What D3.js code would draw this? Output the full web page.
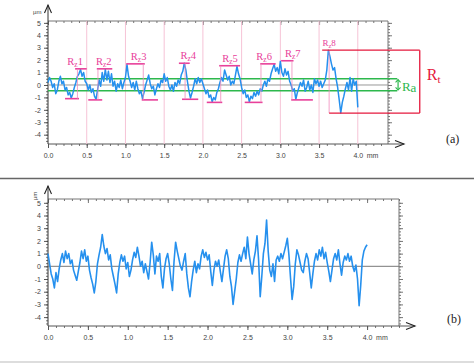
<!DOCTYPE html>
<html><head><meta charset="utf-8">
<script src="https://cdn.jsdelivr.net/npm/d3@7"></script>
<style>body{margin:0;background:#fff}svg{display:block}</style>
</head><body><svg id="c" width="474" height="363"></svg>
<script>
// ---------- data ----------
const step = 0.02; // mm between profile samples
const profileA = [
 0.2,0.6,0.3,-0.2,0.1,-0.7,-0.4,0.3,0.7,0.1,
 0.3,-0.4,-0.2,-0.8,-0.6,-1.05,-0.7,-0.2,0.2,0.7,
 0.9,1.25,0.7,1.0,0.3,0.1,-0.4,0.0,-0.6,-0.3,
 -0.9,-1.15,-0.4,0.4,-0.1,1.0,0.3,1.25,0.4,1.1,
 0.2,0.9,-0.1,0.3,-0.5,0.1,-0.2,0.4,-0.3,0.2,
 0.6,1.65,0.7,0.3,-0.2,0.2,-0.4,0.3,-0.3,-0.7,
 -0.5,-1.1,-0.6,0.0,0.4,0.8,0.1,-0.3,-0.1,-0.8,
 -0.3,0.1,-0.2,0.4,0.2,0.9,0.3,0.6,-0.1,-0.4,
 0.0,-0.5,0.2,-0.1,0.4,0.1,0.8,1.1,1.75,1.2,
 0.3,-0.5,-1.05,-0.6,-0.1,0.5,0.1,0.6,0.2,0.5,
 0.1,-0.3,-0.7,-0.4,-1.0,-0.8,-1.35,-1.0,-1.2,-0.6,
 -0.3,0.2,0.6,0.3,1.2,0.8,0.4,0.7,0.0,0.3,
 0.1,0.8,1.5,0.9,0.5,-0.2,-0.7,-0.4,-1.0,-0.8,
 -1.35,-0.9,-1.1,-0.6,-0.9,-0.5,-0.8,-0.3,-0.5,0.0,
 0.3,-0.1,0.5,0.3,0.9,1.3,1.65,1.1,1.4,0.9,
 1.9,1.0,0.7,1.3,0.8,1.1,0.3,0.0,-0.5,-0.3,
 -1.15,-0.6,-0.2,0.2,-0.1,0.4,-0.5,-0.2,0.3,-0.4,
 0.0,-0.6,0.5,0.1,0.4,-0.1,0.3,-0.2,0.1,0.4,
 1.2,2.8,2.3,1.7,1.2,1.4,0.5,-0.2,-1.2,-2.25,
 -1.4,-0.9,-0.3,0.2,-0.4,0.6,-0.5,0.5,0.0,0.3,
 -1.8
];
const profileB = [
 1.0,0.2,-0.6,-1.0,-1.7,-0.5,-1.2,-0.2,0.5,1.0,
 0.3,1.2,0.6,1.0,0.2,0.5,-0.3,-0.7,-1.1,-0.4,
 0.3,1.2,0.6,1.3,0.4,0.8,-0.3,-0.9,-1.4,-2.1,
 -1.2,0.2,0.9,1.5,2.5,1.6,1.0,1.4,0.5,0.9,
 -0.2,-0.8,-1.4,-2.1,-0.6,0.3,0.9,0.4,0.8,-0.2,
 0.3,-0.8,-0.3,0.5,1.1,0.7,1.5,0.8,0.0,0.4,
 -0.5,0.2,-0.4,-1.0,0.3,1.9,0.9,-0.6,0.8,0.4,
 1.0,-0.8,-1.7,-0.2,0.6,1.0,0.2,-1.0,-1.9,0.4,
 1.9,1.2,0.6,0.0,-0.3,0.4,1.0,-0.6,-1.7,-2.4,
 -1.2,-0.3,0.4,-0.5,0.2,-0.2,0.8,1.3,0.7,1.1,
 0.5,0.9,-0.4,-1.5,-0.3,0.4,0.0,0.5,-0.4,-1.2,
 -0.2,0.8,1.3,0.6,-0.8,-1.6,-3.0,-2.0,-1.0,0.3,
 0.9,0.4,1.0,1.5,0.6,2.3,1.0,0.2,-0.6,0.5,
 1.2,2.4,0.5,-2.4,-0.8,1.0,1.8,3.65,1.2,-0.3,
 -0.8,0.2,-1.2,0.5,0.8,0.4,1.0,0.6,1.1,1.6,
 2.2,0.9,-0.9,-2.6,-1.6,0.2,1.3,0.9,0.3,-0.3,
 -0.5,0.4,1.0,0.6,-0.5,-1.7,-0.6,0.4,1.0,0.5,
 1.3,0.8,1.5,0.6,1.1,0.3,-0.4,-1.2,-0.3,0.6,
 1.0,0.5,1.3,0.2,-0.7,0.3,0.8,0.5,1.0,0.4,
 0.8,0.0,-0.4,0.1,-1.0,-3.1,-1.5,0.5,1.2,1.5,
 1.7
];
const xMajorTicks = [0.0,0.5,1.0,1.5,2.0,2.5,3.0,3.5,4.0];
const yMajorTicks = [-4,-3,-2,-1,0,1,2,3,4,5];
const divisions = [0.5,1.0,1.5,2.0,2.5,3.0,3.5,4.0];
const rzNames = ["1","2","3","4","5","6","7","8"];
const rzPeak = [1.3,1.3,1.7,1.75,1.55,1.7,1.95,2.8];
const rzValley = [-1.1,-1.2,-1.2,-1.15,-1.4,-1.4,-1.2,-2.26];
const rzPeakFrom = [0.35,0.63,1.01,1.69,2.21,2.74,3.01,null];
const rzPeakTo = [0.50,0.83,1.25,1.83,2.48,2.94,3.17,null];
const rzValleyFrom = [0.22,0.52,1.21,1.73,2.05,2.54,3.14,null];
const rzValleyTo = [0.40,0.70,1.42,1.94,2.25,2.77,3.42,null];
const rzLink = [0.38,0.645,1.23,1.77,2.23,2.75,3.15,3.63];
const rzLabelX = [0.35,0.72,1.17,1.81,2.35,2.79,3.16,3.63];
const raLevels = [0.5,-0.47];
const rtLevels = [2.8,-2.26];

// ---------- drawing ----------
const svg = d3.select("#c");
const tickFont = "'Liberation Sans', Arial, sans-serif";
const serif = "'Liberation Serif', 'Times New Roman', serif";
const blue = "#2590ee", green = "#2db84d", red = "#e5183c", pink = "#e8409a";

svg.append("rect").attr("width",474).attr("height",363).attr("fill","#fff");
svg.append("line").attr("x1",0).attr("x2",474).attr("y1",178.5).attr("y2",178.5).attr("stroke","#666").attr("stroke-width",1.5);
svg.append("line").attr("x1",0).attr("x2",474).attr("y1",362).attr("y2",362).attr("stroke","#bbb").attr("stroke-width",1);

function panel(opt){
  const x = d3.scaleLinear().domain(opt.xd).range(opt.xr);
  const y = d3.scaleLinear().domain(opt.yd).range(opt.yr);
  const g = svg.append("g");
  const [L,R] = opt.xr, [B,T] = opt.yr;
  const xMinor = d3.range(0, opt.xd[1]+1e-9, 0.1).map(v=>+v.toFixed(2));
  const yMinor = d3.range(-4.5, 5.01, 0.25);
  const styleAxis = sel => { sel.select(".domain").remove(); sel.selectAll("line").attr("stroke","#777"); };
  g.append("g").attr("transform",`translate(${L},0)`).call(d3.axisLeft(y).tickValues(yMinor).tickSize(2).tickFormat("")).call(styleAxis);
  g.append("g").attr("transform",`translate(${R},0)`).call(d3.axisRight(y).tickValues(yMinor).tickSize(2).tickFormat("")).call(styleAxis);
  g.append("g").attr("transform",`translate(0,${B})`).call(d3.axisBottom(x).tickValues(xMinor).tickSize(2).tickFormat("")).call(styleAxis);
  g.append("g").attr("transform",`translate(0,${T})`).call(d3.axisBottom(x).tickValues(xMinor).tickSize(2).tickFormat("")).call(styleAxis);
  const yl = g.append("g").attr("transform",`translate(${L},0)`).call(d3.axisLeft(y).tickValues(yMajorTicks).tickSize(4).tickPadding(3).tickFormat(d=>String(d)));
  yl.select(".domain").remove(); yl.selectAll("line").attr("stroke","#555");
  yl.selectAll("text").attr("font-family",tickFont).attr("font-size",7).attr("fill","#444");
  const xl = g.append("g").attr("transform",`translate(0,${B})`).call(d3.axisBottom(x).tickValues(xMajorTicks).tickSize(4).tickPadding(5).tickFormat(d3.format(".1f")));
  xl.select(".domain").remove(); xl.selectAll("line").attr("stroke","#555");
  xl.selectAll("text").attr("font-family",tickFont).attr("font-size",7).attr("fill","#444");
  g.append("g").attr("transform",`translate(${R},0)`).call(d3.axisRight(y).tickValues(yMajorTicks).tickSize(4).tickFormat("")).call(styleAxis);
  g.append("g").attr("transform",`translate(0,${T})`).call(d3.axisBottom(x).tickValues(xMajorTicks).tickSize(4).tickFormat("")).call(styleAxis);
  g.append("text").attr("x",x(4.0)+9).attr("y",B+13.5).attr("font-family",tickFont).attr("font-size",7).attr("fill","#444").text("mm");
  g.append("line").attr("x1",L).attr("x2",R).attr("y1",T).attr("y2",T).attr("stroke","#777");
  g.append("line").attr("x1",R).attr("x2",R).attr("y1",T).attr("y2",B).attr("stroke","#777");
  g.append("line").attr("x1",L).attr("x2",opt.arrowX).attr("y1",B).attr("y2",B).attr("stroke","#555");
  g.append("line").attr("x1",L).attr("x2",L).attr("y1",B).attr("y2",opt.arrowY).attr("stroke","#333");
  g.append("path").attr("d",`M${L-3.5},${opt.arrowY+8}L${L},${opt.arrowY}L${L+3.5},${opt.arrowY+8}`).attr("fill","none").attr("stroke","#222").attr("stroke-width",1.1);
  g.append("path").attr("d",`M${opt.arrowX-9},${B-3.5}L${opt.arrowX},${B}L${opt.arrowX-9},${B+3.5}`).attr("fill","none").attr("stroke","#222").attr("stroke-width",1.1);
  const um = g.append("text").attr("font-family",tickFont).attr("font-size",6).attr("fill","#444").text("µm");
  if(opt.rotUnit) um.attr("transform",`translate(${L-11},${opt.arrowY+10}) rotate(-90)`).attr("text-anchor","middle");
  else um.attr("x",L-15).attr("y",opt.arrowY+9);
  return {x,y,g,L,R,T,B};
}

// ----- panel (a)
const A = panel({xd:[0,4.39], xr:[48,388], yd:[-4.75,5.15], yr:[144,21], arrowX:404, arrowY:5, rotUnit:false});
A.g.append("g").selectAll("line").data(divisions).join("line")
  .attr("x1",d=>A.x(d)).attr("x2",d=>A.x(d)).attr("y1",A.T).attr("y2",A.B)
  .attr("stroke","#f6c3d6").attr("stroke-width",1);
A.g.append("line").attr("x1",A.L).attr("x2",A.R).attr("y1",A.y(0)).attr("y2",A.y(0)).attr("stroke","#999").attr("stroke-width",1);
A.g.append("g").selectAll("line").data(raLevels).join("line")
  .attr("x1",A.L).attr("x2",A.x(4.51)).attr("y1",d=>A.y(d)).attr("y2",d=>A.y(d))
  .attr("stroke",green).attr("stroke-width",1.6);
A.g.append("path").datum(profileA)
  .attr("d",d3.line().x((d,i)=>A.x(i*step)).y(d=>A.y(d)))
  .attr("fill","none").attr("stroke",blue).attr("stroke-width",1.5).attr("stroke-linejoin","round");
const rzG = A.g.append("g");
rzNames.forEach((n,i)=>{
  if(rzPeakFrom[i]!==null){
    rzG.append("line").attr("x1",A.x(rzPeakFrom[i])).attr("x2",A.x(rzPeakTo[i])).attr("y1",A.y(rzPeak[i])).attr("y2",A.y(rzPeak[i])).attr("stroke",pink).attr("stroke-width",1.6);
    rzG.append("line").attr("x1",A.x(rzValleyFrom[i])).attr("x2",A.x(rzValleyTo[i])).attr("y1",A.y(rzValley[i])).attr("y2",A.y(rzValley[i])).attr("stroke",pink).attr("stroke-width",1.6);
  }
  rzG.append("line").attr("x1",A.x(rzLink[i])).attr("x2",A.x(rzLink[i])).attr("y1",A.y(rzPeak[i])).attr("y2",A.y(rzValley[i])).attr("stroke","#f08cbc").attr("stroke-width",0.8);
  const t = rzG.append("text").attr("x",A.x(rzLabelX[i])).attr("y",A.y(rzPeak[i])-4).attr("text-anchor","middle")
    .attr("font-family",serif).attr("fill",pink).attr("font-size",i===7?9:10.5);
  t.append("tspan").text("R");
  t.append("tspan").attr("font-size",i===7?6.5:7.5).attr("dy",2).text("z");
  t.append("tspan").attr("dy",-2).text(n);
});
A.g.append("line").attr("x1",A.x(3.54)).attr("x2",A.x(4.80)).attr("y1",A.y(rtLevels[0])).attr("y2",A.y(rtLevels[0])).attr("stroke",red).attr("stroke-width",1.3);
A.g.append("line").attr("x1",A.x(3.63)).attr("x2",A.x(4.80)).attr("y1",A.y(rtLevels[1])).attr("y2",A.y(rtLevels[1])).attr("stroke",red).attr("stroke-width",1.3);
A.g.append("line").attr("x1",A.x(4.80)).attr("x2",A.x(4.80)).attr("y1",A.y(rtLevels[0])).attr("y2",A.y(rtLevels[1])).attr("stroke",red).attr("stroke-width",1.3);
const rt = A.g.append("text").attr("x",A.x(4.89)).attr("y",A.y(0.4)).attr("font-family",serif).attr("fill",red).attr("font-size",16);
rt.append("tspan").text("R"); rt.append("tspan").attr("font-size",11).attr("dy",3).text("t");
const bx = A.x(4.52), y1 = A.y(raLevels[0]), y2 = A.y(raLevels[1]);
A.g.append("line").attr("x1",bx).attr("x2",bx).attr("y1",y1+1).attr("y2",y2-1).attr("stroke",green).attr("stroke-width",1.2);
A.g.append("path").attr("d",`M${bx-2.5},${y1+3.5}L${bx},${y1+0.8}L${bx+2.5},${y1+3.5}M${bx-2.5},${y2-3.5}L${bx},${y2-0.8}L${bx+2.5},${y2-3.5}`).attr("fill","none").attr("stroke",green).attr("stroke-width",1.1);
const ra = A.g.append("text").attr("x",A.x(4.57)).attr("y",A.y(-0.5)).attr("font-family",serif).attr("fill",green).attr("font-size",13);
ra.append("tspan").text("R"); ra.append("tspan").attr("dy",1).text("a");
svg.append("text").attr("x",446).attr("y",143).attr("font-family",serif).attr("font-size",12).attr("fill","#222").text("(a)");

// ----- panel (b)
const Bp = panel({xd:[0,4.4], xr:[48,399], yd:[-4.7,5.3], yr:[326,199], arrowX:415, arrowY:186, rotUnit:true});
Bp.g.append("line").attr("x1",Bp.L).attr("x2",Bp.R).attr("y1",Bp.y(0)).attr("y2",Bp.y(0)).attr("stroke","#777").attr("stroke-width",1);
Bp.g.append("path").datum(profileB)
  .attr("d",d3.line().x((d,i)=>Bp.x(i*step)).y(d=>Bp.y(d)))
  .attr("fill","none").attr("stroke",blue).attr("stroke-width",1.6).attr("stroke-linejoin","round");
svg.append("text").attr("x",447).attr("y",323).attr("font-family",serif).attr("font-size",12).attr("fill","#222").text("(b)");
</script></body></html>
